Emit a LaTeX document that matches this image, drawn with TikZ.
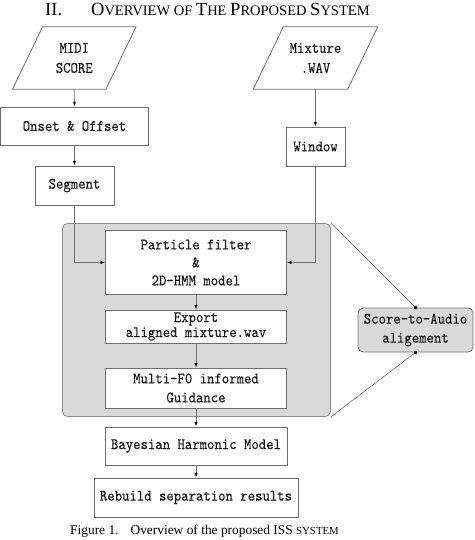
\documentclass[tikz,border=0pt]{standalone}
\usepackage{fontspec}
\setmainfont{Liberation Serif}
\newfontfamily\boxfont{lmmono10-regular}[Extension=.otf,FakeStretch=0.88,FakeBold=0.2]
\usetikzlibrary{arrows.meta}
\definecolor{linegray}{RGB}{110,110,110}
\definecolor{panelgray}{RGB}{217,217,217}
\tikzset{
  boxline/.style={draw=linegray, line width=0.8pt},
  stepbox/.style={boxline, fill=white, rectangle, inner sep=0pt, align=center,
     font=\boxfont\fontsize{16}{19}\selectfont, text=black!90},
  iobox/.style={inner sep=0pt, align=center,
     font=\boxfont\fontsize{16}{20}\selectfont, text=black!90},
  conn/.style={draw=linegray, line width=0.7pt, -{Latex[length=4.5pt,width=3.2pt,black]}},
  plain/.style={draw=linegray, line width=0.6pt},
  dotmark/.style={fill=black, inner sep=0pt, minimum size=2.4pt, rectangle}
}
\begin{document}
\begin{tikzpicture}[x=1pt,y=-1pt]
\useasboundingbox (0,0) rectangle (474,540);
% title
\node[anchor=base west, inner sep=0pt, text=black] (title) at (45,16)
  {\fontsize{18.5}{18.5}\selectfont II.\hspace{29pt}O{\fontsize{14.5}{14.5}\selectfont VERVIEW OF }T{\fontsize{14.5}{14.5}\selectfont HE }P{\fontsize{14.5}{14.5}\selectfont ROPOSED }S{\fontsize{14.5}{14.5}\selectfont YSTEM}};
% container
\node[draw=linegray!80, line width=0.8pt, fill=panelgray, rounded corners=5pt,
  minimum width=268pt, minimum height=193pt, inner sep=0pt] (cont) at (196.5,320) {};
% inputs
\node[iobox, minimum width=93pt, minimum height=62pt] (midi) at (74.25,58) {MIDI\\SCORE};
\draw[boxline] ([xshift=15pt]midi.north west) -- ([xshift=15pt]midi.north east)
  -- ([xshift=-15pt]midi.south east) -- ([xshift=-15pt]midi.south west) -- cycle;
\node[iobox, minimum width=94pt, minimum height=62pt] (mix) at (315.5,58) {Mixture\\.WAV};
\draw[boxline] ([xshift=15pt]mix.north west) -- ([xshift=15pt]mix.north east)
  -- ([xshift=-15pt]mix.south east) -- ([xshift=-15pt]mix.south west) -- cycle;
% boxes
\node[stepbox, minimum width=148pt, minimum height=38pt] (onset) at (74.5,126) {Onset \& Offset};
\node[stepbox, minimum width=79pt, minimum height=39pt] (seg) at (74.5,185.5) {Segment};
\node[stepbox, minimum width=59pt, minimum height=39pt] (win) at (315.5,146.5) {Window};
\node[stepbox, minimum width=181pt, minimum height=64pt] (pf) at (196,262.5) {Particle filter\\[-1pt]\&\\[-1pt]2D-HMM model};
\node[stepbox, minimum width=181pt, minimum height=33pt, font=\boxfont\fontsize{16}{15}\selectfont] (exp) at (196,326.5) {Export\\aligned mixture.wav};
\node[stepbox, minimum width=181pt, minimum height=40pt] (mf) at (196,388) {Multi-F0 informed\\Guidance};
\node[stepbox, minimum width=182pt, minimum height=38pt] (bay) at (196,446) {Bayesian Harmonic Model};
\node[stepbox, minimum width=204pt, minimum height=39pt] (reb) at (196,497.5) {Rebuild separation results};
\node[stepbox, fill=panelgray, rounded corners=5pt, minimum width=115pt, minimum height=44pt] (sta) at (415.5,330) {Score-to-Audio\\aligement};
% connectors
\draw[conn] (midi.south) -- (onset.north);
\draw[conn] (onset.south) -- (seg.north);
\draw[conn] (mix.south) -- (win.north);
\draw[conn] (seg.south) |- (pf.west);
\draw[conn] (win.south) |- (pf.east);
\draw[conn] (pf.south) -- (exp.north);
\draw[conn] (exp.south) -- (mf.north);
\draw[conn] (mf.south) -- (bay.north);
\draw[conn] (bay.south) -- (reb.north);
\draw[plain] (cont.north east) -- (sta.north);
\draw[plain] (cont.south east) -- (sta.south);
\node[dotmark] (d1) at (sta.north) {};
\node[dotmark] (d2) at (sta.south) {};
% caption
\node[anchor=base west, inner sep=0pt, text=black] (cap) at (70,534)
  {\fontsize{13.4}{13.4}\selectfont Figure 1.\hspace{12pt}Overview of the proposed ISS {\fontsize{10.8}{10.8}\selectfont SYSTEM}};
\end{tikzpicture}
\end{document}
